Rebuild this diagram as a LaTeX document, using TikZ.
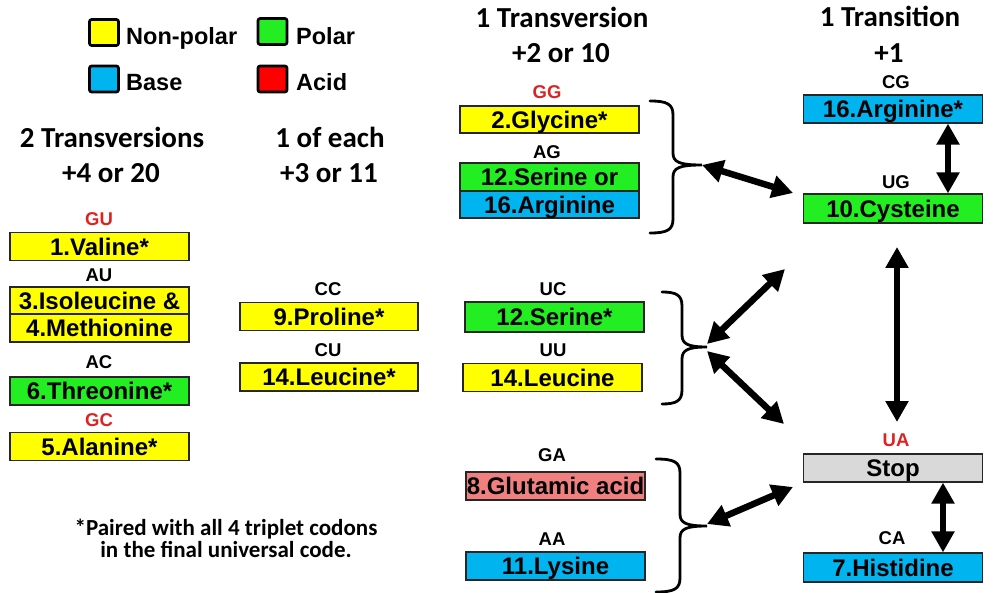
\documentclass[tikz,border=0pt]{standalone}
\usepackage{fontspec}
\setmainfont{Liberation Sans}
\newfontfamily\hdfont{Carlito}
\usetikzlibrary{arrows.meta}
\definecolor{cyel}{HTML}{FFFF00}
\definecolor{cgrn}{HTML}{22EE22}
\definecolor{cblu}{HTML}{00B4F0}
\definecolor{cred}{HTML}{FF0000}
\definecolor{cpink}{HTML}{F08080}
\definecolor{cgray}{HTML}{D9D9D9}
\definecolor{ctred}{HTML}{DD2222}
\newcommand\drawbrace[6]{%
  \draw[bracestyle] (#1,#4) .. controls ({#2-6},#4) and (#2,{#4+3}) .. (#2,{#4+14})
    -- (#2,{#5-12}) .. controls (#2,{#5-3}) and ({#2+6},#5) .. (#3,#5)
    .. controls ({#2+6},#5) and (#2,{#5+3}) .. (#2,{#5+12})
    -- (#2,{#6-14}) .. controls (#2,{#6-3}) and ({#2-6},#6) .. (#1,#6);}
\begin{document}
\begin{tikzpicture}[x=1pt,y=-1pt,
  abox/.style={draw=black!85, line width=1.2pt, minimum width=179pt, minimum height=28pt,
    inner sep=0pt, font=\fontsize{24}{25}\selectfont\bfseries, text height=17.3pt, text depth=0pt},
  codon/.style={font=\fontsize{18.5}{20}\selectfont\bfseries, inner sep=0pt, text height=13.3pt, text depth=0pt},
  redcodon/.style={codon, text=ctred},
  head/.style={font=\hdfont\fontsize{29}{30}\selectfont\bfseries, inner sep=0pt, anchor=base},
  legsq/.style={draw=black, line width=2.6pt, rounded corners=2pt, minimum width=29pt, minimum height=26pt, inner sep=0pt},
  legtxt/.style={font=\fontsize{23.5}{24}\selectfont\bfseries, inner sep=0pt, text height=17pt, text depth=0pt, anchor=west},
  note/.style={font=\hdfont\fontsize{23}{24}\selectfont\bfseries, inner sep=0pt, anchor=base},
  bracestyle/.style={line width=2.8pt, line cap=round},
  dblarrow/.style={line width=6.5pt, {Triangle[width=22pt,length=21pt]}-{Triangle[width=22pt,length=21pt]}}
]
\useasboundingbox (0,0) rectangle (993,593);

% legend
\node[legsq, fill=cyel] (lyel) at (104,32.5) {};
\node[legtxt] (lyelt) at (126,36.5) {Non-polar};
\node[legsq, fill=cgrn] (lgrn) at (272.5,31.5) {};
\node[legtxt] (lgrnt) at (296,36.5) {Polar};
\node[legsq, fill=cblu] (lblu) at (104,79) {};
\node[legtxt] (lblut) at (126,82.5) {Base};
\node[legsq, fill=cred] (lred) at (272.5,79) {};
\node[legtxt] (lredt) at (296,82.5) {Acid};

% headings
\node[head] (h1) at (112,148) {2 Transversions};
\node[head] (h1b) at (111,183) {+4 or 20};
\node[head] (h2) at (330,148) {1 of each};
\node[head] (h2b) at (329,183) {+3 or 11};
\node[head] (h3) at (562,28) {1 Transversion};
\node[head] (h3b) at (561,63) {+2 or 10};
\node[head] (h4) at (890,27) {1 Transition};
\node[head] (h4b) at (889,63) {+1};

% left column
\node[redcodon] (cGU) at (99,218.5) {GU};
\node[abox, fill=cyel] (val) at (99.5,246.5) {1.Valine*};
\node[codon] (cAU) at (99,274.5) {AU};
\node[abox, fill=cyel, minimum height=27pt] (ile) at (99.5,300.5) {3.Isoleucine \&};
\node[abox, fill=cyel] (met) at (99.5,328) {4.Methionine};
\node[codon] (cAC) at (99,362) {AC};
\node[abox, fill=cgrn] (thr) at (99.5,391) {6.Threonine*};
\node[redcodon] (cGC) at (99,420) {GC};
\node[abox, fill=cyel] (ala) at (99.5,446.5) {5.Alanine*};

% middle column
\node[codon] (cCC) at (328,289) {CC};
\node[abox, fill=cyel, minimum width=178pt] (pro) at (329,316.5) {9.Proline*};
\node[codon] (cCU) at (328,350) {CU};
\node[abox, fill=cyel, minimum width=178pt] (leu1) at (329,377) {14.Leucine*};

% transversion column
\node[redcodon] (cGG) at (547,92) {GG};
\node[abox, fill=cyel, minimum height=27pt] (gly) at (549.5,119.5) {2.Glycine*};
\node[codon] (cAG) at (547,152) {AG};
\node[abox, fill=cgrn] (ser1) at (549.5,177) {12.Serine or};
\node[abox, fill=cblu, minimum height=27pt] (arg1) at (549.5,204.5) {16.Arginine};

\node[codon] (cUC) at (553,289) {UC};
\node[abox, fill=cgrn, minimum height=30pt] (ser2) at (554.5,317) {12.Serine*};
\node[codon] (cUU) at (553,350) {UU};
\node[abox, fill=cyel] (leu2) at (552.5,377.5) {14.Leucine};

\node[codon] (cGA) at (552,455) {GA};
\node[abox, fill=cpink] (glu) at (555.5,486) {8.Glutamic acid};
\node[codon] (cAA) at (552,539) {AA};
\node[abox, fill=cblu] (lys) at (555.5,566) {11.Lysine};

% transition column
\node[codon] (cCG) at (896,82) {CG};
\node[abox, fill=cblu] (arg2) at (893,109) {16.Arginine*};
\node[codon] (cUG) at (896,182) {UG};
\node[abox, fill=cgrn, minimum height=29pt] (cys) at (893,208.5) {10.Cysteine};
\node[redcodon] (cUA) at (896,440) {UA};
\node[abox, fill=cgray] (stop) at (893,468) {Stop};
\node[codon] (cCA) at (892,538) {CA};
\node[abox, fill=cblu, minimum height=29pt] (his) at (893,567.5) {7.Histidine};

% footnote
\node[note] (fn1) at (226,535) {*Paired with all 4 triplet codons};
\node[note] (fn2) at (226,557) {in the final universal code.};

% braces
\drawbrace{650}{673}{702}{101}{165}{233}
\drawbrace{662}{682}{707}{292}{347}{404}
\drawbrace{656}{680}{707}{459}{526}{592}

% connector coordinates
\coordinate (tipA) at (702,165);
\coordinate (endA) at (793,193);
\coordinate (tipB1) at (707,344);
\coordinate (endB1) at (785,269);
\coordinate (tipB2) at (707,351);
\coordinate (endB2) at (784,424);
\coordinate (tipC) at (707,524);
\coordinate (endC) at (793,487);
\coordinate (xa) at (948,0);
\coordinate (xc) at (943,0);
\coordinate (cysbelow) at (897,247);
\coordinate (stopabove) at (897,422);

\draw[dblarrow] (tipA) -- (endA);
\draw[dblarrow] (tipB1) -- (endB1);
\draw[dblarrow] (tipB2) -- (endB2);
\draw[dblarrow] (tipC) -- (endC);
\draw[dblarrow] (arg2.south -| xa) -- (cys.north -| xa);
\draw[dblarrow] (cysbelow) -- (stopabove);
\draw[dblarrow] (stop.south -| xc) -- (his.north -| xc);
\end{tikzpicture}
\end{document}
